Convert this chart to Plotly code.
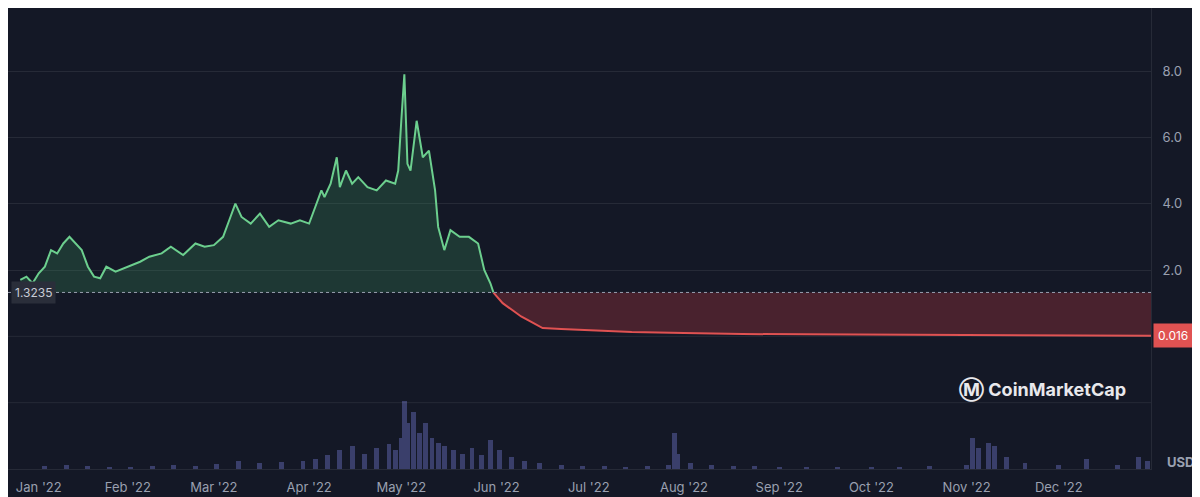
import plotly.graph_objects as go

price_dates = ["2021-12-28","2021-12-30","2022-01-01","2022-01-03","2022-01-05","2022-01-07","2022-01-09","2022-01-11","2022-01-13","2022-01-15","2022-01-17","2022-01-19","2022-01-21","2022-01-23","2022-01-25","2022-01-28",
"2022-02-01","2022-02-05","2022-02-08","2022-02-12","2022-02-15","2022-02-19","2022-02-23","2022-02-26","2022-03-01","2022-03-04","2022-03-06","2022-03-08","2022-03-10","2022-03-13","2022-03-16","2022-03-19","2022-03-22","2022-03-26","2022-03-29",
"2022-04-01","2022-04-03","2022-04-05","2022-04-06","2022-04-08","2022-04-10","2022-04-11","2022-04-13","2022-04-15","2022-04-17","2022-04-20","2022-04-23","2022-04-26","2022-04-29",
"2022-04-30","2022-05-01","2022-05-02","2022-05-03","2022-05-04","2022-05-06","2022-05-08","2022-05-10","2022-05-12","2022-05-13","2022-05-15","2022-05-17","2022-05-20","2022-05-23","2022-05-26","2022-05-28","2022-05-30","2022-05-31"]
price_vals = [1.7,1.8,1.6,1.9,2.1,2.6,2.5,2.8,3.0,2.8,2.6,2.1,1.8,1.75,2.1,1.95,
2.1,2.25,2.4,2.5,2.7,2.45,2.8,2.7,2.75,3.0,3.5,4.0,3.6,3.4,3.7,3.3,3.5,3.4,3.5,
3.4,3.9,4.4,4.2,4.6,5.4,4.5,5.0,4.6,4.8,4.5,4.4,4.7,4.6,
5.0,6.5,7.9,5.2,5.0,6.5,5.4,5.6,4.4,3.3,2.6,3.2,3.0,3.0,2.8,2.0,1.6,1.32]
red_dates = ["2022-05-31","2022-06-03","2022-06-06","2022-06-09","2022-06-12","2022-06-16","2022-06-22","2022-07-01","2022-07-15","2022-08-01","2022-08-20","2022-09-10","2022-10-01","2022-10-20","2022-11-10","2022-12-01","2022-12-20","2022-12-31"]
red_vals = [1.32,1.0,0.8,0.6,0.45,0.25,0.22,0.18,0.13,0.1,0.07,0.06,0.05,0.04,0.035,0.03,0.02,0.016]

vol_dates = ["2022-01-05","2022-01-12","2022-01-19","2022-01-26","2022-02-02","2022-02-09","2022-02-16","2022-02-23","2022-03-02","2022-03-09","2022-03-16","2022-03-23","2022-03-30",
"2022-04-03","2022-04-07","2022-04-11","2022-04-15","2022-04-19","2022-04-23","2022-04-27","2022-04-29","2022-05-01","2022-05-02","2022-05-03","2022-05-05","2022-05-07","2022-05-09","2022-05-11","2022-05-13","2022-05-15","2022-05-18","2022-05-21","2022-05-24","2022-05-27","2022-05-30","2022-06-02","2022-06-06","2022-06-10","2022-06-15","2022-06-22","2022-06-29",
"2022-07-06","2022-07-13","2022-07-20","2022-07-27","2022-07-29","2022-07-30","2022-08-03","2022-08-10","2022-08-17","2022-08-24","2022-09-01","2022-09-10","2022-09-20","2022-10-01","2022-10-10","2022-10-20","2022-11-01","2022-11-03","2022-11-05","2022-11-08","2022-11-10","2022-11-14","2022-11-20","2022-12-01","2022-12-10","2022-12-20","2022-12-27","2022-12-30"]
vol_vals = [3,4,3,2,2,3,4,3,5,8,6,7,8,
10,14,18,22,15,20,24,18,30,66,45,55,35,45,30,25,22,18,15,20,14,28,18,12,8,6,4,3,
3,2,3,4,35,15,6,4,3,3,2,2,2,2,2,3,4,30,20,25,22,12,6,4,10,4,12,8]

bg = "#141826"
grid = "rgba(255,255,255,0.08)"
base = 1.3235
fig = go.Figure()
fig.add_trace(go.Bar(x=vol_dates, y=vol_vals, yaxis="y2", marker_color="#3a3f6b", marker_line_width=0, width=1.6*86400000))
fig.add_trace(go.Scatter(x=price_dates, y=[base]*len(price_dates), mode="lines", line=dict(width=0), hoverinfo="skip"))
fig.add_trace(go.Scatter(x=price_dates, y=price_vals, mode="lines", line=dict(color="#6ccf8e", width=2), fill="tonexty", fillcolor="rgba(60,150,95,0.25)"))
fig.add_trace(go.Scatter(x=red_dates, y=[base]*len(red_dates), mode="lines", line=dict(width=0), hoverinfo="skip"))
fig.add_trace(go.Scatter(x=red_dates, y=red_vals, mode="lines", line=dict(color="#e05252", width=2), fill="tonexty", fillcolor="rgba(200,60,65,0.30)"))
fig.add_shape(type="line", xref="paper", x0=0, x1=1, y0=base, y1=base, line=dict(color="#9aa0b0", width=1, dash="dot"))
fig.add_shape(type="line", xref="paper", x0=0, x1=1, y0=0, y1=0, line=dict(color=grid, width=1))
fig.add_shape(type="line", xref="paper", x0=0, x1=1, y0=-2.0, y1=-2.0, line=dict(color=grid, width=1))

fig.update_layout(
    width=1200, height=497, paper_bgcolor=bg, plot_bgcolor=bg, showlegend=False,
    margin=dict(l=0, r=57, t=0, b=36), bargap=0,
    font=dict(family="Inter", color="#9aa0b0", size=13),
    xaxis=dict(range=["2021-12-24","2022-12-31"], showgrid=False, zeroline=False,
               tickvals=["2022-01-03","2022-02-01","2022-03-01","2022-04-01","2022-05-01","2022-06-01","2022-07-01","2022-08-01","2022-09-01","2022-10-01","2022-11-01","2022-12-01"],
               ticktext=["Jan '22","Feb '22","Mar '22","Apr '22","May '22","Jun '22","Jul '22","Aug '22","Sep '22","Oct '22","Nov '22","Dec '22"],
               showline=True, linecolor=grid, ticklabelstandoff=6),
    yaxis=dict(side="right", range=[-4.0, 9.9], tickvals=[2,4,6,8], ticktext=["2.0","4.0","6.0","8.0"],
               gridcolor=grid, zeroline=False, showline=True, linecolor=grid, ticks="", ticklabelstandoff=8),
    yaxis2=dict(overlaying="y", range=[0, 66*453/67], visible=False),
)
fig.add_annotation(xref="paper", yref="y", x=0.003, y=base, text="1.3235", showarrow=False, xanchor="left",
                   bgcolor="#2a2e3a", font=dict(color="#c8ccd6", size=12), borderpad=3)
fig.add_annotation(xref="paper", yref="y", x=1.002, y=0.016, text="0.016", showarrow=False, xanchor="left",
                   bgcolor="#e05252", font=dict(color="white", size=12), borderpad=4)
fig.add_annotation(xref="paper", yref="paper", x=1.012, y=0.015, text="<b>USD</b>", showarrow=False, xanchor="left", yanchor="middle",
                   font=dict(color="#9aa0b0", size=13))
fig.add_annotation(xref="paper", yref="paper", x=0.98, y=0.14, text="<b>Ⓜ CoinMarketCap</b>", showarrow=False, xanchor="right",
                   font=dict(color="#e8e8ec", size=18))
fig.write_html("out.html")
